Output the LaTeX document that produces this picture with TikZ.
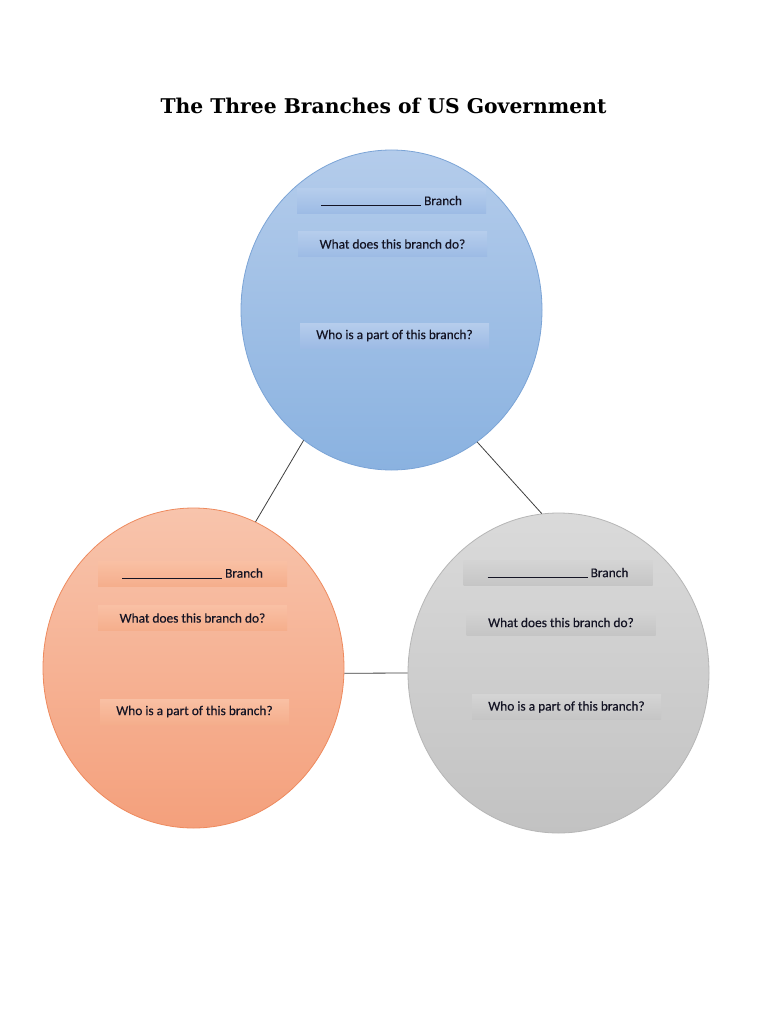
\documentclass[tikz,border=0pt]{standalone}
\usepackage{fontspec}
\usetikzlibrary{shapes.geometric}
\setmainfont{Carlito}
\newfontfamily\barfont{Carlito}[FakeBold=0.4]
\newfontfamily\titlefont{DejaVu Serif}
\definecolor{bluetop}{HTML}{B4CCEB}
\definecolor{bluebot}{HTML}{8AB2E0}
\definecolor{blueedge}{HTML}{7BA4D6}
\definecolor{ortop}{HTML}{F8C4AC}
\definecolor{orbot}{HTML}{F4A07C}
\definecolor{oredge}{HTML}{EE8A5E}
\definecolor{grtop}{HTML}{DADADA}
\definecolor{grbot}{HTML}{C2C2C2}
\definecolor{gredge}{HTML}{B6B6B6}
\definecolor{bbartop}{HTML}{B6CDEC}
\definecolor{bbarbot}{HTML}{9DBBE5}
\definecolor{obartop}{HTML}{F9C0A4}
\definecolor{obarbot}{HTML}{F5AE8C}
\definecolor{gbartop}{HTML}{D4D4D4}
\definecolor{gbarbot}{HTML}{C5C5C5}
\definecolor{txt}{HTML}{141424}
\begin{document}
\begin{tikzpicture}[x=1pt,y=-1pt,
  branchcircle/.style={ellipse, minimum width=301pt, minimum height=320pt, line width=0.8pt, inner sep=0pt},
  bluecircle/.style={branchcircle, draw=blueedge, top color=bluetop, bottom color=bluebot},
  orcircle/.style={branchcircle, draw=oredge, top color=ortop, bottom color=orbot},
  grcircle/.style={branchcircle, draw=gredge, top color=grtop, bottom color=grbot},
  bar/.style={minimum width=189pt, minimum height=25pt, inner sep=0pt, font=\barfont\fontsize{13.4}{16}\selectfont, text=txt},
  bluebar/.style={bar, top color=bbartop, bottom color=bbarbot},
  orbar/.style={bar, top color=obartop, bottom color=obarbot},
  grbar/.style={bar, top color=gbartop, bottom color=gbarbot},
  link/.style={draw=black!75, line width=0.8pt}
]
\useasboundingbox[fill=white] (0,0) rectangle (768,1024);
\node[font=\titlefont\bfseries\fontsize{20.3}{24}\selectfont] (title) at (383.5,106) {The Three Branches of US Government};

\node[bluecircle] (top) at (391.5,310) {};
\node[orcircle] (left) at (193.5,668) {};
\node[grcircle] (right) at (558.5,673) {};

\draw[link] (top.236.9) -- (left.67.8);
\draw[link] (top.303.7) -- (right.96.7);
\draw[link] (left.358) -- (right.180.4);

\node[bluebar] (t1) at (391.5,201) {\rule[-1pt]{100pt}{0.9pt} Branch};
\node[bluebar] (t2) at (392.5,244) {What does this branch do?};
\node[bluebar] (t3) at (394.5,335.5) {Who is a part of this branch?};

\node[orbar] (l1) at (192.5,573.5) {\rule[-1pt]{100pt}{0.9pt} Branch};
\node[orbar] (l2) at (192.5,618) {What does this branch do?};
\node[orbar] (l3) at (194.5,711.5) {Who is a part of this branch?};

\node[grbar] (r1) at (558,573) {\rule[-1pt]{100pt}{0.9pt} Branch};
\node[grbar] (r2) at (561,622.5) {What does this branch do?};
\node[grbar] (r3) at (566.5,707) {Who is a part of this branch?};
\end{tikzpicture}
\end{document}
